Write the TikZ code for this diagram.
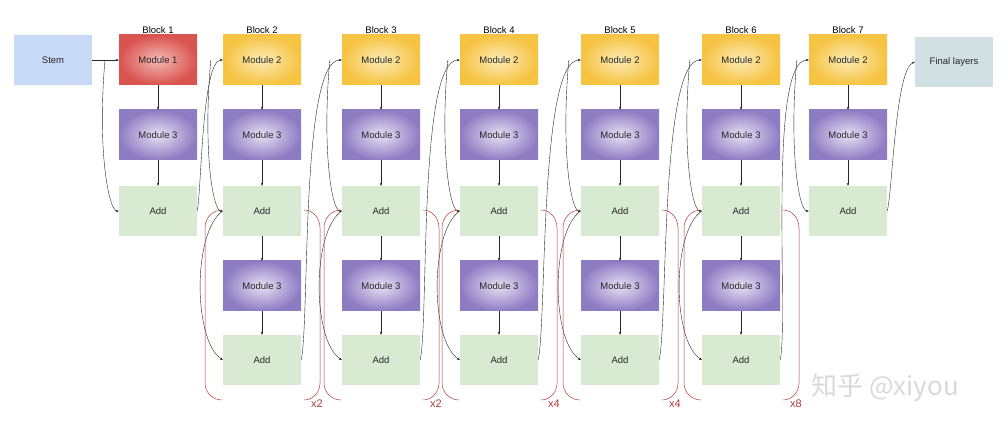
\documentclass[tikz,border=0pt]{standalone}
\usepackage{fontspec}
\setmainfont{Liberation Sans}
\newfontfamily\cjkf{Noto Sans CJK SC}
\usetikzlibrary{arrows.meta,calc}
\definecolor{addg}{HTML}{D9EAD3}
\definecolor{stemb}{HTML}{C9DAF8}
\definecolor{finb}{HTML}{D0E0E3}
\definecolor{brk}{HTML}{B03A3A}
\definecolor{redo}{HTML}{D9534F}
\definecolor{redi}{HTML}{F4B9B5}
\definecolor{yelo}{HTML}{F6C342}
\definecolor{yeli}{HTML}{FCEBB6}
\definecolor{puro}{HTML}{8E7CC3}
\definecolor{puri}{HTML}{E6E1F4}
\tikzset{
 bx/.style={minimum width=78pt,minimum height=50pt,inner sep=0pt,font=\fontsize{9.5}{11}\selectfont,text=black!85},
 addbox/.style={bx,fill=addg},
 modA/.style={bx,shading=radial,inner color=redi,outer color=redo},
 modB/.style={bx,shading=radial,inner color=yeli,outer color=yelo},
 modC/.style={bx,shading=radial,inner color=puri,outer color=puro},
 arr/.style={-{Stealth[length=3pt,width=2.5pt]},line width=0.4pt,black!85},
 brace/.style={brk,line width=0.5pt},
 lbl/.style={font=\fontsize{9.5}{11}\selectfont},
 rlbl/.style={font=\fontsize{11}{12}\selectfont,text=brk}
}
\begin{document}
\begin{tikzpicture}[x=1pt,y=1pt]
\useasboundingbox (0,0) rectangle (1000,433);
\node[bx,fill=stemb] (stem) at (53,373) {Stem};
\node[bx,fill=finb] (fin) at (954,371) {Final layers};
% block 1
\node[lbl] (l1) at (158,403) {Block 1};
\node[modA] (m1b1) at (158,373) {Module 1};
\node[modC] (m3b1) at (158,298) {Module 3};
\node[addbox] (a1b1) at (158,222) {Add};
\draw[arr] (stem.east) -- (m1b1.west);
\draw[arr] (105,373) .. controls +(-8,-90) and +(-10,0) .. (a1b1.west);
\draw[arr] (m1b1) -- (m3b1);
\draw[arr] (m3b1) -- (a1b1);
% blocks 2-6
\foreach \n/\x/\p/\r in {2/262/a1b1/x2,3/381/a2b2/x2,4/499/a2b3/x4,5/620/a2b4/x4,6/741/a2b5/x8}{
  \node[lbl] (l\n) at (\x,403) {Block \n};
  \node[modB] (m2b\n) at (\x,373) {Module 2};
  \node[modC] (m3b\n) at (\x,298) {Module 3};
  \node[addbox] (a1b\n) at (\x,222) {Add};
  \node[modC] (m4b\n) at (\x,147) {Module 3};
  \node[addbox] (a2b\n) at (\x,73) {Add};
  \draw[arr] (m2b\n) -- (m3b\n);
  \draw[arr] (m3b\n) -- (a1b\n);
  \draw[arr] (a1b\n) -- (m4b\n);
  \draw[arr] (m4b\n) -- (a2b\n);
  \draw[arr] (\p.east) to[out=78,in=180,looseness=0.35] (m2b\n.west);
  \draw[arr] ($(m2b\n.west)+(-12,0)$) .. controls +(-8,-90) and +(-10,0) .. (a1b\n.west);
  \draw[arr] (a1b\n.west) .. controls +(-30,-20) and +(-30,20) .. (a2b\n.west);
  \draw[brace] (\x-40,223) to[out=180,in=90] (\x-57,205) -- (\x-57,50) to[out=-90,in=180] (\x-40,33);
  \draw[brace] (\x+42,223) to[out=0,in=90] (\x+58,205) -- (\x+58,50) to[out=-90,in=0] (\x+42,33);
  \node[rlbl] (r\n) at (\x+55,29) {\r};
}
% block 7
\node[lbl] (l7) at (848,403) {Block 7};
\node[modB] (m2b7) at (848,373) {Module 2};
\node[modC] (m3b7) at (848,298) {Module 3};
\node[addbox] (a1b7) at (848,222) {Add};
\draw[arr] (m2b7) -- (m3b7);
\draw[arr] (m3b7) -- (a1b7);
\draw[arr] (a2b6.east) to[out=78,in=180,looseness=0.35] (m2b7.west);
\draw[arr] ($(m2b7.west)+(-12,0)$) .. controls +(-8,-90) and +(-10,0) .. (a1b7.west);
\draw[arr] (a1b7.east) to[out=75,in=200,looseness=0.35] (fin.west);
\node[font=\cjkf\fontsize{26}{28}\selectfont,text=gray!30] (wm) at (885,45) {知乎 @xiyou};
\end{tikzpicture}
\end{document}
